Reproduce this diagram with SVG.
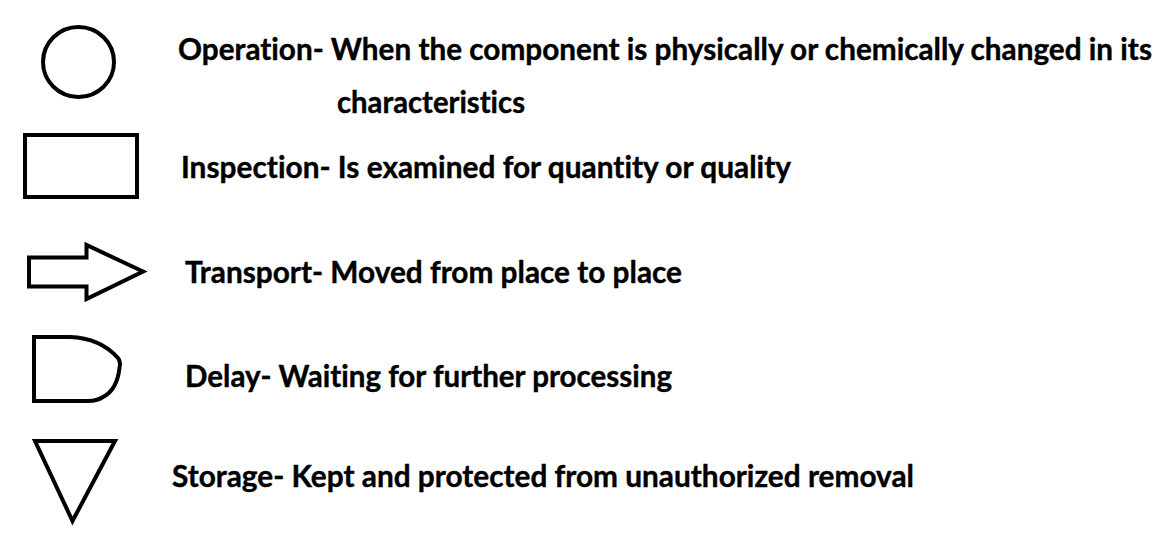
<svg xmlns="http://www.w3.org/2000/svg" width="1166" height="544" viewBox="0 0 1166 544">
<style>
.s{fill:none;stroke:#000;stroke-width:4;stroke-linejoin:miter}
.t{font-family:Lato,"Open Sans",sans-serif;font-weight:bold;font-size:30px;fill:#000;stroke:#000;stroke-width:0.4;font-variant-ligatures:none;font-feature-settings:"liga" 0,"clig" 0}
</style>
<rect width="1166" height="544" fill="#fff"/>
<g id="operation">
<ellipse class="s" cx="78.5" cy="62" rx="35.5" ry="35"/>
<text class="t" x="178" y="60" textLength="974" lengthAdjust="spacingAndGlyphs">Operation- When the component is physically or chemically changed in its</text>
<text class="t" x="337" y="113" textLength="188" lengthAdjust="spacingAndGlyphs">characteristics</text>
</g>
<g id="inspection">
<rect class="s" x="25" y="135" width="112" height="62"/>
<text class="t" x="181" y="178" textLength="610" lengthAdjust="spacingAndGlyphs">Inspection- Is examined for quantity or quality</text>
</g>
<g id="transport">
<path class="s" stroke-width="3.6" d="M29 257.5 H86.5 V245 L143 271.5 L86.5 299 V286.5 H29 Z"/>
<text class="t" x="185" y="283" textLength="497" lengthAdjust="spacingAndGlyphs">Transport- Moved from place to place</text>
</g>
<g id="delay">
<path class="s" stroke-width="3.6" d="M34 337 H70 Q100 338 118 358 Q121 362 119.5 368 Q117 390 103 397 Q97 401 88 401 H34 Z"/>
<text class="t" x="185" y="387" textLength="487" lengthAdjust="spacingAndGlyphs">Delay- Waiting for further processing</text>
</g>
<g id="storage">
<path class="s" stroke-width="3.6" d="M35 441 H115 L72.5 521 Z"/>
<text class="t" x="172" y="487" textLength="742" lengthAdjust="spacingAndGlyphs">Storage- Kept and protected from unauthorized removal</text>
</g>
<g id="connectors"></g>
</svg>
